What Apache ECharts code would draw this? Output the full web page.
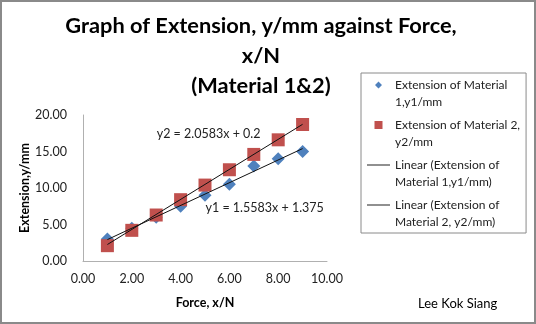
<!DOCTYPE html>
<html>
<head>
<meta charset="utf-8">
<script src="https://cdn.jsdelivr.net/npm/echarts@6/dist/echarts.min.js"></script>
<style>
html,body{margin:0;padding:0;background:#fff;}
#c{width:536px;height:324px;}
</style>
</head>
<body>
<div id="c"></div>
<script>
// Data
var forceX = [1, 2, 3, 4, 5, 6, 7, 8, 9];
var material1 = [3.0, 4.5, 6.0, 7.5, 9.0, 10.5, 13.0, 14.0, 15.0];
var material2 = [2.1, 4.2, 6.3, 8.4, 10.4, 12.5, 14.6, 16.6, 18.7];
var trend1 = {slope: 1.5583, intercept: 1.375};
var trend2 = {slope: 2.0583, intercept: 0.2};
var xTicks = [0, 2, 4, 6, 8, 10];
var yTicks = [0, 5, 10, 15, 20];
var seriesNames = [
  'Extension of Material\n1,y1/mm',
  'Extension of Material 2,\ny2/mm',
  'Linear (Extension of\nMaterial 1,y1/mm)',
  'Linear (Extension of\nMaterial 2, y2/mm)'
];
var eq1Text = 'y1 = 1.5583x + 1.375';
var eq2Text = 'y2 = 2.0583x + 0.2';

function pairs(xs, ys) { return xs.map(function (x, i) { return [x, ys[i]]; }); }
function trendPts(t) {
  var x0 = forceX[0], x1 = forceX[forceX.length - 1];
  return [[x0, t.slope * x0 + t.intercept], [x1, t.slope * x1 + t.intercept]];
}

// legend icons: shape drawn at the top of a 23x25 box (corner specks fix the box)
var BOX = 'M0,0L0.01,0L0,0.01Z M23,25L22.99,25L23,24.99Z ';
var iconDiamond = 'path://' + BOX + 'M11.5,0.5L15,4L11.5,7.5L8,4Z';
var iconRect = 'path://' + BOX + 'M7.5,0L15.5,0L15.5,8L7.5,8Z';
var iconLine = 'path://' + BOX + 'M0,3.5L23,3.5L23,4.5L0,4.5Z';

var FONT = 'Lato';
var chart = echarts.init(document.getElementById('c'), null, {renderer: 'canvas'});
chart.setOption({
  backgroundColor: '#fff',
  animation: false,
  title: {
    text: 'Graph of Extension, y/mm against Force,\nx/N\n(Material 1&2)',
    left: 256, textAlign: 'center', top: 6,
    textStyle: {fontFamily: FONT, fontWeight: 'bold', fontSize: 21.8, lineHeight: 30, color: '#000'}
  },
  graphic: [{
    type: 'rect', shape: {x: 1, y: 1, width: 534, height: 322},
    style: {fill: 'none', stroke: '#8a8a8a', lineWidth: 2}, silent: true, z: 100
  }, {
    type: 'text', left: 418, top: 297,
    style: {text: 'Lee Kok Siang', fontFamily: FONT, fontSize: 13, fill: '#000'}
  }],
  legend: {
    orient: 'vertical', left: 361, top: 73,
    padding: [3.5, 6, 2.5, 6],
    itemGap: 6, itemWidth: 23, itemHeight: 25,
    borderColor: '#8a8a8a', borderWidth: 1,
    selectedMode: false,
    textStyle: {fontFamily: FONT, fontSize: 12, lineHeight: 17, color: '#222'},
    data: [
      {name: seriesNames[0], icon: iconDiamond},
      {name: seriesNames[1], icon: iconRect},
      {name: seriesNames[2], icon: iconLine, itemStyle: {color: '#222', borderWidth: 0}},
      {name: seriesNames[3], icon: iconLine, itemStyle: {color: '#222', borderWidth: 0}}
    ]
  },
  grid: {left: 83, right: 209, top: 115, bottom: 63},
  xAxis: {
    type: 'value', min: 0, max: 10, interval: 2,
    name: 'Force, x/N', nameLocation: 'middle', nameGap: 35,
    nameTextStyle: {fontFamily: FONT, fontWeight: 'bold', fontSize: 12.5, color: '#000'},
    axisLine: {show: true, lineStyle: {color: '#b0b0b0', width: 1}},
    axisTick: {show: false}, splitLine: {show: false},
    axisLabel: {margin: 11, fontFamily: FONT, fontSize: 12.5, color: '#222',
      formatter: function (v) { return v.toFixed(2); }}
  },
  yAxis: {
    type: 'value', min: 0, max: 20, interval: 5,
    name: 'Extension,y/mm', nameLocation: 'middle', nameGap: 44, nameRotate: 90,
    nameTextStyle: {fontFamily: FONT, fontWeight: 'bold', fontSize: 12.5, color: '#000'},
    axisLine: {show: true, lineStyle: {color: '#b0b0b0', width: 1}},
    axisTick: {show: false}, splitLine: {show: false},
    axisLabel: {margin: 16, fontFamily: FONT, fontSize: 12.5, color: '#222',
      formatter: function (v) { return v.toFixed(2); }}
  },
  series: [{
    name: seriesNames[0], type: 'scatter', symbol: 'diamond', symbolSize: 13,
    itemStyle: {color: '#4F81BD', opacity: 1}, data: pairs(forceX, material1), z: 3
  }, {
    name: seriesNames[1], type: 'scatter', symbol: 'rect', symbolSize: 13,
    itemStyle: {color: '#C0504D', opacity: 1}, data: pairs(forceX, material2), z: 3
  }, {
    name: seriesNames[2], type: 'line', showSymbol: false, symbol: 'none',
    lineStyle: {color: '#111', width: 1}, itemStyle: {color: '#111'},
    data: trendPts(trend1), z: 4,
    markPoint: {symbol: 'circle', symbolSize: 1, silent: true, itemStyle: {color: 'rgba(0,0,0,0)'},
      data: [{coord: [5.0, 7.2], label: {show: true, formatter: eq1Text, position: 'right', distance: 0,
        fontFamily: FONT, fontSize: 12.5, color: '#222'}}]}
  }, {
    name: seriesNames[3], type: 'line', showSymbol: false, symbol: 'none',
    lineStyle: {color: '#111', width: 1}, itemStyle: {color: '#111'},
    data: trendPts(trend2), z: 4,
    markPoint: {symbol: 'circle', symbolSize: 1, silent: true, itemStyle: {color: 'rgba(0,0,0,0)'},
      data: [{coord: [3.0, 17.4], label: {show: true, formatter: eq2Text, position: 'right', distance: 0,
        fontFamily: FONT, fontSize: 12.5, color: '#222'}}]}
  }]
});
</script>
</body>
</html>
